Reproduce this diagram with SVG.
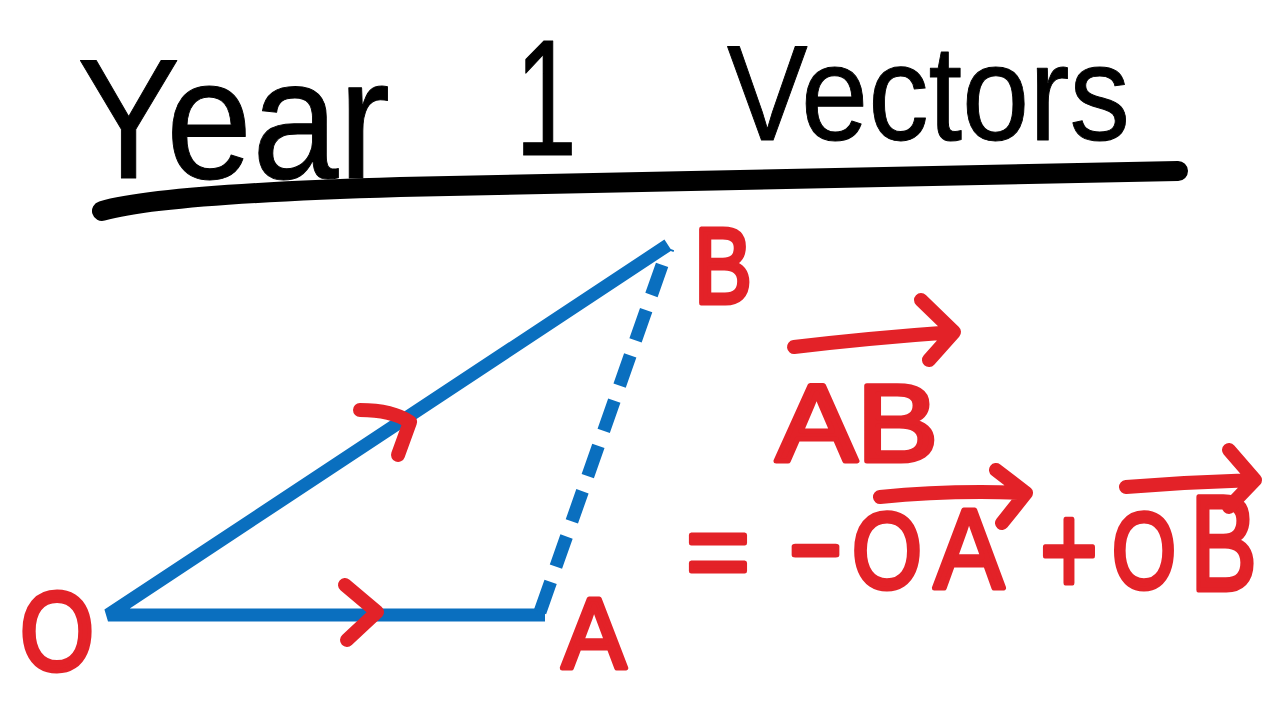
<svg xmlns="http://www.w3.org/2000/svg" width="1280" height="720" viewBox="0 0 1280 720">
<style>
.title{font-family:"Liberation Sans",Arial,sans-serif;fill:#000;stroke:#000;stroke-width:1;stroke-linejoin:round}
.red{font-family:"Liberation Sans",Arial,sans-serif;fill:#e32228;stroke:#e32228;stroke-width:5;stroke-linejoin:round}
.blue{fill:none;stroke:#0a6fbf;stroke-width:13}
.rs{fill:none;stroke:#e32228;stroke-width:14;stroke-linecap:round;stroke-linejoin:round}
</style>
<rect width="1280" height="720" fill="#fff"/>
<g id="title">
<text class="title" x="77" y="178" font-size="170" textLength="313" lengthAdjust="spacingAndGlyphs">Year</text>
<text class="title" x="515" y="155" font-size="165" textLength="62" lengthAdjust="spacingAndGlyphs">1</text>
<text class="title" x="727" y="140" font-size="135" textLength="403" lengthAdjust="spacingAndGlyphs">Vectors</text>
<path d="M102,211 Q160,194 400,187 L1178,171" fill="none" stroke="#000" stroke-width="20" stroke-linecap="round"/>
</g>
<g id="connectors">
<path class="blue" d="M545,615 L108,615 L668,245" stroke-linejoin="bevel"/>
<path class="blue" d="M540,612 L668,248" stroke-width="12" stroke-dasharray="32 16"/>
<path class="rs" d="M360,410 Q392,410 410,422 L398,455"/>
<path class="rs" d="M345,585 L377,612 L347,640"/>
</g>
<g id="node-O"><text class="red" x="20" y="670" font-size="112" textLength="74" lengthAdjust="spacingAndGlyphs">O</text></g>
<g id="node-A"><text class="red" x="562" y="668" font-size="100" textLength="64" lengthAdjust="spacingAndGlyphs">A</text></g>
<g id="node-B"><text class="red" x="694" y="303" font-size="108" textLength="58" lengthAdjust="spacingAndGlyphs">B</text></g>
<g id="equation">
<text class="red" x="776" y="461" font-size="110" textLength="162" lengthAdjust="spacingAndGlyphs">AB</text>
<path class="rs" d="M794,347 Q870,338 954,332 M921,300 L954,332 L929,360"/>
<text class="red" x="686" y="590" font-size="112" textLength="64" lengthAdjust="spacingAndGlyphs">=</text>
<text class="red" x="788" y="580" font-size="112" textLength="55" lengthAdjust="spacingAndGlyphs">-</text>
<text class="red" x="852" y="588" font-size="108" textLength="70" lengthAdjust="spacingAndGlyphs">O</text>
<text class="red" x="934" y="588" font-size="114" textLength="70" lengthAdjust="spacingAndGlyphs">A</text>
<text class="red" x="1040" y="594" font-size="130" textLength="58" lengthAdjust="spacingAndGlyphs">+</text>
<text class="red" x="1112" y="588" font-size="108" textLength="64" lengthAdjust="spacingAndGlyphs">O</text>
<text class="red" x="1190" y="590" font-size="135" textLength="67" lengthAdjust="spacingAndGlyphs">B</text>
<path class="rs" d="M880,497 Q950,490 1026,493 M996,470 L1026,493 L1002,523"/>
<path class="rs" d="M1126,487 Q1190,482 1255,480 M1229,450 L1255,480 L1229,507"/>
</g>
</svg>
